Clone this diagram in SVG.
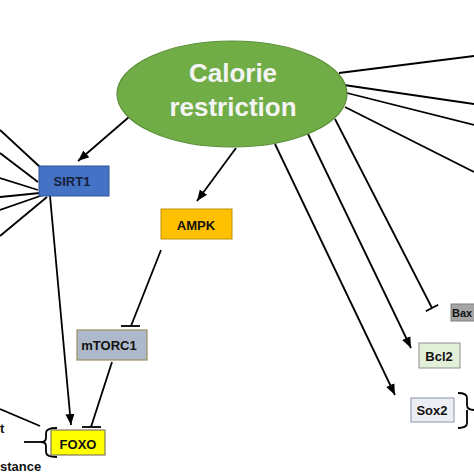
<svg xmlns="http://www.w3.org/2000/svg" width="474" height="474" viewBox="0 0 474 474">
<style>
.ln{stroke:#000;stroke-width:1.8;fill:none}
.lbl{font-family:"Liberation Sans",Arial,sans-serif;font-weight:bold;font-size:13px;text-anchor:middle;fill:#111}
.big{font-family:"Liberation Sans",Arial,sans-serif;font-weight:bold;font-size:26px;text-anchor:middle;fill:#F4F4F4}
.side{font-family:"Liberation Sans",Arial,sans-serif;font-weight:bold;font-size:13px;fill:#111}
</style>
<defs>
<marker id="arr" markerUnits="userSpaceOnUse" markerWidth="12" markerHeight="12" viewBox="0 0 12 12" refX="11" refY="6" orient="auto">
<path d="M0,1.5 L11,6 L0,10.5 Z" fill="#000"/>
</marker>
</defs>
<rect width="474" height="474" fill="#fff"/>
<g id="connectors">
<line class="ln" x1="129" y1="117" x2="78" y2="161" marker-end="url(#arr)"/>
<line class="ln" x1="236" y1="148" x2="197" y2="201" marker-end="url(#arr)"/>
<line class="ln" x1="50" y1="196" x2="71" y2="425" marker-end="url(#arr)"/>
<line class="ln" x1="275" y1="144" x2="395" y2="395" marker-end="url(#arr)"/>
<line class="ln" x1="308" y1="134" x2="411" y2="348" marker-end="url(#arr)"/>
<line class="ln" x1="335" y1="119" x2="432" y2="308"/>
<line class="ln" x1="438.2" y1="304.8" x2="425.8" y2="311.2"/>
<line class="ln" x1="161" y1="250" x2="131" y2="326"/>
<line class="ln" x1="121" y1="326" x2="140" y2="326"/>
<line class="ln" x1="112" y1="362" x2="91" y2="427"/>
<line class="ln" x1="82" y1="427" x2="101" y2="427"/>
<line class="ln" x1="0" y1="130" x2="40" y2="167"/>
<line class="ln" x1="0" y1="153" x2="38" y2="182"/>
<line class="ln" x1="0" y1="178" x2="38" y2="190"/>
<line class="ln" x1="0" y1="197" x2="40" y2="193"/>
<line class="ln" x1="0" y1="210" x2="43" y2="195"/>
<line class="ln" x1="0" y1="236" x2="47" y2="197"/>
<line class="ln" x1="339" y1="73" x2="474" y2="56"/>
<line class="ln" x1="344" y1="85" x2="474" y2="104"/>
<line class="ln" x1="343" y1="92" x2="474" y2="125"/>
<line class="ln" x1="345" y1="107" x2="474" y2="172"/>
<line class="ln" x1="0" y1="409" x2="40" y2="426"/>
<line class="ln" x1="24" y1="442" x2="41" y2="442"/>
<path class="ln" d="M57,428 Q46,428 46,433 L46,438 Q46,442 41,442 Q46,442 46,446 L46,452 Q46,457 57,457"/>
<path class="ln" d="M458,393 Q467,393 467,398 L467,405 Q467,410 474,410 M467,410 Q467,410 467,415 L467,423 Q467,428 458,428"/>
</g>
<g id="calorie-restriction">
<ellipse cx="232" cy="94" rx="115" ry="53" fill="#70AD47" stroke="#5A8F38" stroke-width="1.2"/>
<text class="big" x="233" y="82">Calorie</text>
<text class="big" x="233" y="116">restriction</text>
</g>
<g id="sirt1">
<rect x="39" y="166" width="70" height="30" fill="#4472C4" stroke="#2F5597" stroke-width="1"/>
<text class="lbl" x="72" y="186" style="fill:#14213D">SIRT1</text>
</g>
<g id="ampk">
<rect x="161" y="209" width="71" height="30" fill="#FFC000" stroke="#BF9000" stroke-width="1"/>
<text class="lbl" x="196" y="230">AMPK</text>
</g>
<g id="mtorc1">
<rect x="77" y="330" width="70" height="30" fill="#ADB9CA" stroke="#9C8C60" stroke-width="1.2"/>
<text class="lbl" x="109" y="350">mTORC1</text>
</g>
<g id="foxo">
<rect x="51" y="430" width="54" height="25" fill="#FFFF00" stroke="#7F7F5F" stroke-width="1.2"/>
<text class="lbl" x="78" y="449">FOXO</text>
</g>
<g id="bax">
<rect x="451" y="304" width="40" height="17" fill="#A5A5A5" stroke="#7F7F7F" stroke-width="1"/>
<text class="side" x="452" y="316.5" style="font-size:11px">Bax</text>
</g>
<g id="bcl2">
<rect x="419" y="343" width="41" height="25" fill="#E2F0D9" stroke="#8C8C8C" stroke-width="1"/>
<text class="lbl" x="439" y="361">Bcl2</text>
</g>
<g id="sox2">
<rect x="411" y="398" width="43" height="24" fill="#EDEEF4" stroke="#8A94A8" stroke-width="1"/>
<text class="lbl" x="432" y="415">Sox2</text>
</g>
<g id="side-labels">
<text class="side" x="0" y="433">t</text>
<text class="side" x="0" y="471">stance</text>
</g>
</svg>
